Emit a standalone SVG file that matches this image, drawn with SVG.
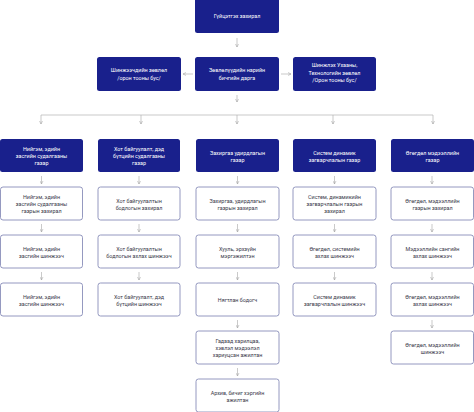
<svg xmlns="http://www.w3.org/2000/svg" width="474" height="412" viewBox="0 0 474 412">
<style>
.dk rect{fill:#19208c;}
.wt rect{fill:#ffffff;stroke:#7a7fb0;stroke-width:0.8;}
text{font-family:Roboto,"Noto Sans",sans-serif;font-size:5.4px;text-anchor:middle;}
.dk text{fill:#ffffff;}
.wt text{fill:#3a3a4a;}
.cn line{stroke:#b3b3b3;stroke-width:0.7;fill:none;}
.cn .a{marker-end:url(#ah);}
</style>
<defs>
<marker id="ah" viewBox="0 0 6 6" refX="5" refY="3" markerWidth="4" markerHeight="4" orient="auto" markerUnits="userSpaceOnUse">
<path d="M0,0.5 L5,3 L0,5.5" fill="none" stroke="#a0a0a0" stroke-width="0.8"/>
</marker>
</defs>
<rect width="474" height="412" fill="#ffffff"/>
<g class="cn">
<line class="a" x1="237" y1="38" x2="237" y2="47"/>
<line class="a" x1="193" y1="74" x2="183" y2="74"/>
<line class="a" x1="281" y1="74" x2="291" y2="74"/>
<line class="a" x1="237" y1="95" x2="237" y2="102"/>
<line x1="41" y1="115" x2="433" y2="115"/>
<line class="a" x1="41" y1="115" x2="41" y2="124"/>
<line class="a" x1="141" y1="115" x2="141" y2="124"/>
<line class="a" x1="237" y1="115" x2="237" y2="124"/>
<line class="a" x1="333" y1="115" x2="333" y2="124"/>
<line class="a" x1="433" y1="115" x2="433" y2="124"/>
<line class="a" x1="41.5" y1="176" x2="41.5" y2="184"/>
<line class="a" x1="41.5" y1="224" x2="41.5" y2="232"/>
<line class="a" x1="41.5" y1="272" x2="41.5" y2="280"/>
<line class="a" x1="139" y1="176" x2="139" y2="184"/>
<line class="a" x1="139" y1="224" x2="139" y2="232"/>
<line class="a" x1="139" y1="272" x2="139" y2="280"/>
<line class="a" x1="237.5" y1="176" x2="237.5" y2="184"/>
<line class="a" x1="237.5" y1="224" x2="237.5" y2="232"/>
<line class="a" x1="237.5" y1="272" x2="237.5" y2="280"/>
<line class="a" x1="237.5" y1="320" x2="237.5" y2="328"/>
<line class="a" x1="237.5" y1="368" x2="237.5" y2="376"/>
<line class="a" x1="334.5" y1="176" x2="334.5" y2="184"/>
<line class="a" x1="334.5" y1="224" x2="334.5" y2="232"/>
<line class="a" x1="334.5" y1="272" x2="334.5" y2="280"/>
<line class="a" x1="432" y1="176" x2="432" y2="184"/>
<line class="a" x1="432" y1="224" x2="432" y2="232"/>
<line class="a" x1="432" y1="272" x2="432" y2="280"/>
<line class="a" x1="432" y1="320" x2="432" y2="328"/>
</g>
<g id="ceo" class="dk"><rect x="195" y="-4" width="84" height="37" rx="2.5"/><text x="237" y="18">Гүйцэтгэх захирал</text></g>
<g id="council-left" class="dk"><rect x="97" y="57" width="84" height="34" rx="2.5"/><text x="139" y="72">Шинжээчдийн зөвлөл</text><text x="139" y="79.5">/орон тооны бус/</text></g>
<g id="secretary" class="dk"><rect x="195" y="57" width="84" height="34" rx="2.5"/><text x="237" y="72">Зөвлөлүүдийн нарийн</text><text x="237" y="79.5">бичгийн дарга</text></g>
<g id="council-right" class="dk"><rect x="293" y="57" width="83" height="34" rx="2.5"/><text x="334.5" y="67">Шинжлэх Ухааны,</text><text x="334.5" y="74.5">Технологийн зөвлөл</text><text x="334.5" y="82">/Орон тооны бус/</text></g>

<g id="h1" class="dk"><rect x="0" y="139" width="83" height="33" rx="2.5"/><text x="41.5" y="151">Нийгэм, эдийн</text><text x="41.5" y="158">засгийн судалгааны</text><text x="41.5" y="165">газар</text></g>
<g id="h2" class="dk"><rect x="98" y="139" width="82" height="33" rx="2.5"/><text x="139" y="151">Хот байгуулалт, дэд</text><text x="139" y="158">бүтцийн судалгааны</text><text x="139" y="165">газар</text></g>
<g id="h3" class="dk"><rect x="196" y="139" width="83" height="33" rx="2.5"/><text x="237.5" y="154.5">Захиргаа удирдлагын</text><text x="237.5" y="161.5">газар</text></g>
<g id="h4" class="dk"><rect x="293" y="139" width="83" height="33" rx="2.5"/><text x="334.5" y="154.5">Систем динамик</text><text x="334.5" y="161.5">загварчлалын газар</text></g>
<g id="h5" class="dk"><rect x="391" y="139" width="83" height="33" rx="2.5"/><text x="432.5" y="154.5">Өгөгдөл мэдээллийн</text><text x="432.5" y="161.5">газар</text></g>

<g id="c1r1" class="wt"><rect x="0.5" y="187" width="82" height="33" rx="2.5"/><text x="41.5" y="199">Нийгэм, эдийн</text><text x="41.5" y="206">засгийн судалгааны</text><text x="41.5" y="213">газрын захирал</text></g>
<g id="c1r2" class="wt"><rect x="0.5" y="235" width="82" height="33" rx="2.5"/><text x="41.5" y="250.5">Нийгэм, эдийн</text><text x="41.5" y="257.5">засгийн шинжээч</text></g>
<g id="c1r3" class="wt"><rect x="0.5" y="283" width="82" height="33" rx="2.5"/><text x="41.5" y="298.5">Нийгэм, эдийн</text><text x="41.5" y="305.5">засгийн шинжээч</text></g>

<g id="c2r1" class="wt"><rect x="98" y="187" width="82" height="33" rx="2.5"/><text x="139" y="202.5">Хот байгуулалтын</text><text x="139" y="209.5">бодлогын захирал</text></g>
<g id="c2r2" class="wt"><rect x="98" y="235" width="82" height="33" rx="2.5"/><text x="139" y="250.5">Хот байгуулалтын</text><text x="139" y="257.5">бодлогын ахлах шинжээч</text></g>
<g id="c2r3" class="wt"><rect x="98" y="283" width="82" height="33" rx="2.5"/><text x="139" y="298.5">Хот байгуулалт, дэд</text><text x="139" y="305.5">бүтцийн шинжээч</text></g>

<g id="c3r1" class="wt"><rect x="196" y="187" width="83" height="33" rx="2.5"/><text x="237.5" y="202.5">Захиргаа, удирдлагын</text><text x="237.5" y="209.5">газрын захирал</text></g>
<g id="c3r2" class="wt"><rect x="196" y="235" width="83" height="33" rx="2.5"/><text x="237.5" y="250.5">Хууль, эрхзүйн</text><text x="237.5" y="257.5">мэргэжилтэн</text></g>
<g id="c3r3" class="wt"><rect x="196" y="283" width="83" height="33" rx="2.5"/><text x="237.5" y="301.5">Нягтлан бодогч</text></g>
<g id="c3r4" class="wt"><rect x="196" y="331" width="83" height="33" rx="2.5"/><text x="237.5" y="343">Гадаад харилцаа,</text><text x="237.5" y="350">хэвлэл мэдээлэл</text><text x="237.5" y="357">хариуцсан ажилтан</text></g>
<g id="c3r5" class="wt"><rect x="196" y="379" width="83" height="33" rx="2.5"/><text x="237.5" y="394.5">Архив, бичиг хэргийн</text><text x="237.5" y="401.5">ажилтан</text></g>

<g id="c4r1" class="wt"><rect x="293" y="187" width="83" height="33" rx="2.5"/><text x="334.5" y="199">Систем, динамикийн</text><text x="334.5" y="206">загварчлалын газрын</text><text x="334.5" y="213">захирал</text></g>
<g id="c4r2" class="wt"><rect x="293" y="235" width="83" height="33" rx="2.5"/><text x="334.5" y="250.5">Өгөгдөл, системийн</text><text x="334.5" y="257.5">ахлах шинжээч</text></g>
<g id="c4r3" class="wt"><rect x="293" y="283" width="83" height="33" rx="2.5"/><text x="334.5" y="298.5">Систем динамик</text><text x="334.5" y="305.5">загварчлалын шинжээч</text></g>

<g id="c5r1" class="wt"><rect x="391" y="187" width="82.5" height="33" rx="2.5"/><text x="432.5" y="202.5">Өгөгдөл, мэдээллийн</text><text x="432.5" y="209.5">газрын захирал</text></g>
<g id="c5r2" class="wt"><rect x="391" y="235" width="82.5" height="33" rx="2.5"/><text x="432.5" y="250.5">Мэдээллийн сангийн</text><text x="432.5" y="257.5">ахлах шинжээч</text></g>
<g id="c5r3" class="wt"><rect x="391" y="283" width="82.5" height="33" rx="2.5"/><text x="432.5" y="298.5">Өгөгдөл, мэдээллийн</text><text x="432.5" y="305.5">ахлах шинжээч</text></g>
<g id="c5r4" class="wt"><rect x="391" y="331" width="82.5" height="33" rx="2.5"/><text x="432.5" y="346.5">Өгөгдөл, мэдээллийн</text><text x="432.5" y="353.5">шинжээч</text></g>
</svg>
